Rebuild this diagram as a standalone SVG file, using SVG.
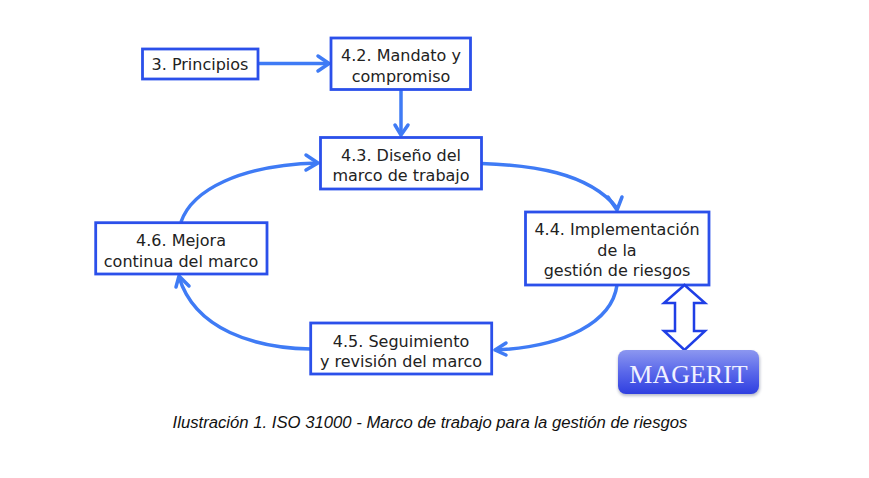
<svg xmlns="http://www.w3.org/2000/svg" width="869" height="478" viewBox="0 0 869 478">
<style>
.box{fill:#fff;stroke:#2b50ea;stroke-width:2.800}
.t{font-family:"DejaVu Sans",sans-serif;font-size:16px;fill:#222;text-anchor:middle}
.c{fill:none;stroke:#3f7bf5;stroke-width:3.5}
.h{fill:none;stroke:#3f7bf5;stroke-width:3.5;stroke-linecap:round;stroke-linejoin:round}
</style>
<defs>
<linearGradient id="mg" x1="0" y1="0" x2="0" y2="1">
<stop offset="0" stop-color="#8c97f0"/>
<stop offset="0.5" stop-color="#5a68ea"/>
<stop offset="1" stop-color="#2f3fe0"/>
</linearGradient>
<filter id="sh" x="-10%" y="-10%" width="120%" height="130%"><feGaussianBlur stdDeviation="1.5"/></filter>
</defs>
<rect width="869" height="478" fill="#fff"/>
<g id="connectors">
<path class="c" d="M258 63.500H329"/>
<path class="h" d="M318 56L329 63.500L318 71"/>
<path class="c" d="M401 89.500V135"/>
<path class="h" d="M395 125L401 135L408 125"/>
<path class="c" d="M481.500 163.500C530 165 588 172 617 208"/>
<path class="h" d="M608 197L617 210L622 197"/>
<path class="c" d="M617 285C612 322 565 347 495 350"/>
<path class="h" d="M506 343L495 350L506 355"/>
<path class="c" d="M310.700 349C255 348 195 330 179 277"/>
<path class="h" d="M176 287L179 276L189 286"/>
<path class="c" d="M181 222C192 190 240 165 318 163"/>
<path class="h" d="M306 155L318 163L306 170"/>
</g>
<g id="n3"><rect class="box" x="142.500" y="49" width="115.500" height="30"/><text class="t" x="200" y="70">3. Principios</text></g>
<g id="n42"><rect class="box" x="331" y="38" width="139.500" height="51.500"/><text class="t" x="401" y="61">4.2. Mandato y</text><text class="t" x="401" y="82">compromiso</text></g>
<g id="n43"><rect class="box" x="320.500" y="137.500" width="161" height="51.500"/><text class="t" x="401" y="161">4.3. Diseño del</text><text class="t" x="401" y="181">marco de trabajo</text></g>
<g id="n44"><rect class="box" x="525.500" y="212" width="183.500" height="73"/><text class="t" x="617" y="235">4.4. Implementación</text><text class="t" x="617" y="256">de la</text><text class="t" x="617" y="276">gestión de riesgos</text></g>
<g id="n45"><rect class="box" x="310.700" y="323" width="181" height="51"/><text class="t" x="401" y="347">4.5. Seguimiento</text><text class="t" x="401" y="367">y revisión del marco</text></g>
<g id="n46"><rect class="box" x="95.700" y="222.700" width="171.300" height="51.300"/><text class="t" x="181" y="246">4.6. Mejora</text><text class="t" x="181" y="267">continua del marco</text></g>
<g id="double-arrow"><path d="M684.500 285L705 303H694V331H705L684.500 350L664 331H675V303H664Z" fill="#fff" stroke="#1f3fe6" stroke-width="2.500" stroke-linejoin="miter"/></g>
<g id="magerit">
<rect x="618" y="352" width="142" height="44" rx="8" fill="#8a8fa8" opacity="0.6" filter="url(#sh)"/>
<rect x="618" y="350" width="141" height="44" rx="8" fill="url(#mg)"/>
<text x="688.500" y="383" font-family="'Liberation Serif',serif" font-size="26px" fill="#f0f1ff" text-anchor="middle">MAGERIT</text>
</g>
<text id="caption" x="430" y="428" font-family="'Liberation Sans',sans-serif" font-style="italic" font-size="16.700px" fill="#111" text-anchor="middle">Ilustración 1. ISO 31000 - Marco de trabajo para la gestión de riesgos</text>
</svg>
